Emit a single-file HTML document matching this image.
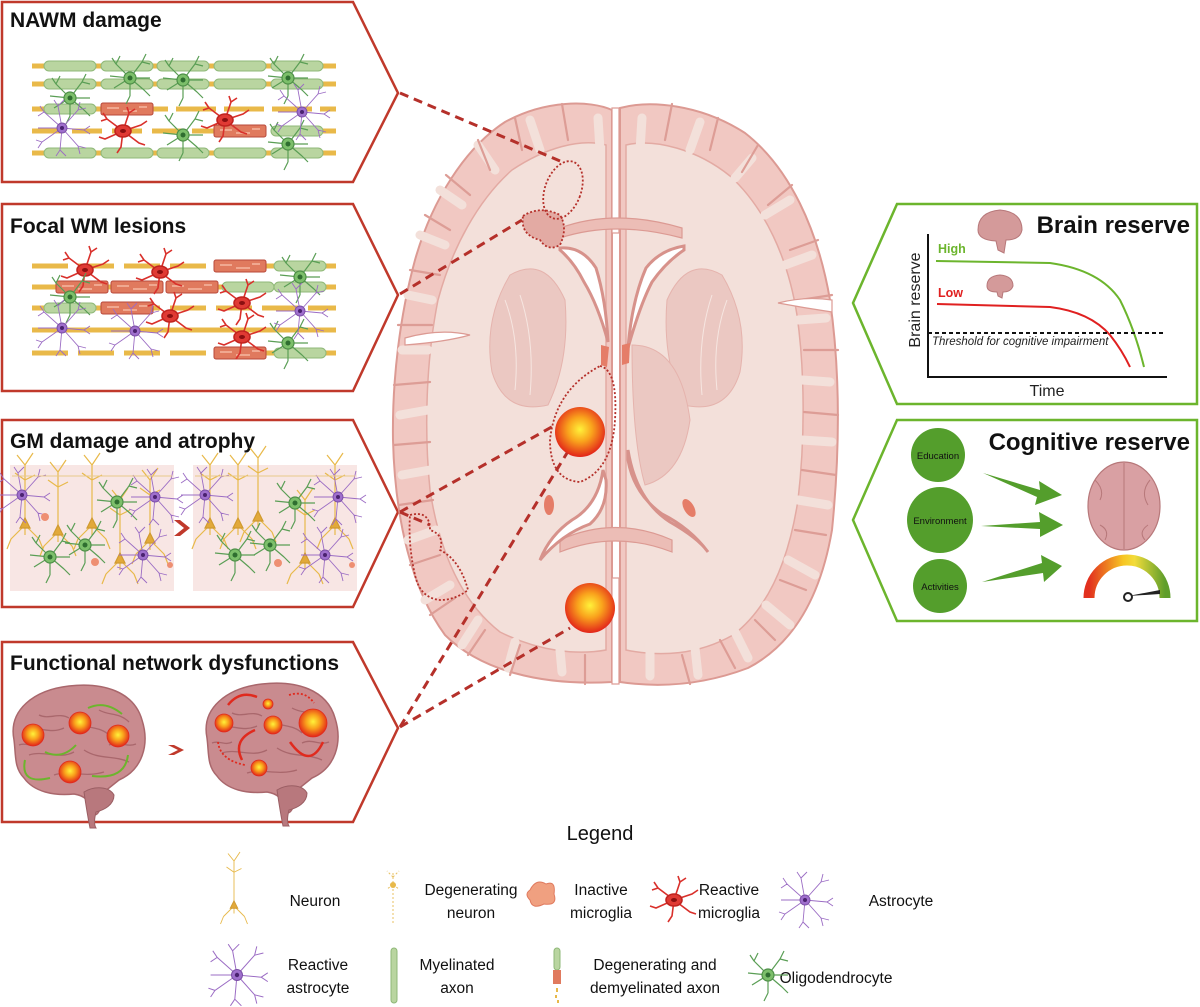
<!DOCTYPE html>
<html><head><meta charset="utf-8"><style>
html,body{margin:0;padding:0;background:#fff}
svg{display:block}
text{font-family:"Liberation Sans",Arial,sans-serif}
</style></head><body>
<svg width="1200" height="1007" viewBox="0 0 1200 1007" xmlns="http://www.w3.org/2000/svg">
<defs>
<radialGradient id="les" cx="0.5" cy="0.45" r="0.55">
<stop offset="0" stop-color="#fff23a"/><stop offset="0.45" stop-color="#f9a21c"/><stop offset="1" stop-color="#e2231a"/>
</radialGradient>
<linearGradient id="gauge" x1="0" x2="1"><stop offset="0" stop-color="#e2301e"/><stop offset="0.45" stop-color="#f7c623"/><stop offset="0.6" stop-color="#f2dc3a"/><stop offset="1" stop-color="#5f9e2b"/></linearGradient>
<g id="oligo" stroke="#5a9e55" stroke-width="1.2" fill="none"><path d="M0 0L-14-14M-14-14L-18-20M-14-14L-10-22M0 0L12-16M12-16L16-24M12-16L20-14M0 0L-16 10M0 0L14 12M14 12L20 18M0 0L0 18M0 18L-4 26M0 0L-20-2M0 0L20 0"/><circle r="6" fill="#7cbf6a" stroke="#4e8f48"/><circle r="2.5" fill="#2f6e30" stroke="none"/></g>
<g id="astro" stroke="#9b6cc4" stroke-width="0.9" fill="none"><path d="M0 0L-18-16L-22-22M-18-16L-24-12M0 0L-4-22L-8-28M-4-22L2-28M0 0L16-18L18-26M16-18L24-20M0 0L22 2L28-2M22 2L28 6M0 0L16 18L18 26M16 18L24 20M0 0L-2 22L-6 28M-2 22L4 28M0 0L-20 14L-26 12M-20 14L-24 20M0 0L-24 0"/><circle r="5" fill="#9f6fcd" stroke="#7a4ea5"/><circle r="2" fill="#4a2270" stroke="none"/></g>
<g id="rmicro" stroke="#d9302b" stroke-width="1.6" fill="none"><path d="M0 0L-16-12L-20-18M-16-12L-22-10M0 0L6-18L4-24M6-18L12-22M0 0L18-6L24-10M0 0L16 12L22 14M0 0L-2 16L-6 22M0 0L-18 8L-24 6"/><ellipse rx="8" ry="6" fill="#e03a34" stroke="#c0231f"/><ellipse rx="3" ry="2" fill="#8b0f10" stroke="none"/></g>
<g id="myel"><rect x="-26" y="-5" width="52" height="10" rx="5" fill="#b9d5a0" stroke="#8fb878" stroke-width="1"/></g>
<g id="dmy"><rect x="-26" y="-6" width="52" height="12" rx="2" fill="#e07a5e" stroke="#b8483a" stroke-width="1"/><path d="M-20-1h12M-4 2h14M12-2h8" stroke="#f0a890" stroke-width="2"/></g>
<g id="neur" stroke="#e8b94a" stroke-width="1.2" fill="none"><path d="M0 0V-60M0-60L-8-70M0-60L8-72M0-45L-10-52M0-45L10-50M0 0L-14 14M0 0L14 14M-14 14L-18 24M14 14L18 24M0 0V10"/><path d="M-5 3L0-7L5 3Z" fill="#e2a93a" stroke="#d09a30"/></g>
<g id="brainside">
<path d="M0 40C-6 10 20-10 55-14C90-18 120-8 128 20C136 45 128 70 105 80L90 92C88 110 82 120 78 112C74 100 72 96 60 94C40 96 20 92 10 78C0 68 2 55 0 40Z" fill="#c98b8f" stroke="#a9676c" stroke-width="1.5"/>
<path d="M10 30C25 25 35 35 50 28M60 20C70 30 85 25 95 35M15 55C30 50 45 60 60 52M70 50C85 60 100 55 115 62M40 75C55 70 70 78 90 72M25 15C35 20 45 12 55 18M85 10C95 16 105 12 115 22M5 45C12 42 18 48 25 44M95 45C105 40 112 48 122 44" stroke="#a9676c" stroke-width="1.3" fill="none"/>
<path d="M70 92C80 86 95 86 100 95C100 105 90 110 82 112C80 120 80 125 82 128L76 128C74 118 72 106 70 92Z" fill="#b8787d" stroke="#9a5e63"/>
</g>
</defs>

<!-- LEFT PANELS -->
<g fill="#fff" stroke="#c0392b" stroke-width="2.5">
<polygon points="2,2 353,2 398,93 353,182 2,182"/>
<polygon points="2,204 353,204 398,295 353,391 2,391"/>
<polygon points="2,420 353,420 398,512 353,607 2,607"/>
<polygon points="2,642 353,642 398,728 353,822 2,822"/>
</g>
<g font-weight="bold" font-size="21" fill="#111">
<text x="10" y="27">NAWM damage</text>
<text x="10" y="233">Focal WM lesions</text>
<text x="10" y="448">GM damage and atrophy</text>
<text x="10" y="670">Functional network dysfunctions</text>
</g>

<!-- NAWM illustration -->
<g stroke="#e9b949" stroke-width="5">
<line x1="32" y1="66" x2="336" y2="66"/><line x1="32" y1="84" x2="336" y2="84"/>
<line x1="32" y1="109" x2="336" y2="109" stroke-dasharray="40 8"/><line x1="32" y1="131" x2="336" y2="131" stroke-dasharray="30 10"/>
<line x1="32" y1="153" x2="336" y2="153"/>
</g>
<g>
<use href="#myel" x="70" y="66"/><use href="#myel" x="127" y="66"/><use href="#myel" x="183" y="66"/><use href="#myel" x="240" y="66"/><use href="#myel" x="297" y="66"/>
<use href="#myel" x="70" y="84"/><use href="#myel" x="127" y="84"/><use href="#myel" x="183" y="84"/><use href="#myel" x="240" y="84"/><use href="#myel" x="297" y="84"/>
<use href="#myel" x="70" y="109"/><use href="#myel" x="297" y="131"/>
<use href="#myel" x="70" y="153"/><use href="#myel" x="127" y="153"/><use href="#myel" x="183" y="153"/><use href="#myel" x="240" y="153"/><use href="#myel" x="297" y="153"/>
<use href="#dmy" x="127" y="109"/><use href="#dmy" x="240" y="131"/>
<use href="#oligo" x="130" y="78"/><use href="#oligo" x="183" y="80"/><use href="#oligo" x="288" y="78"/><use href="#oligo" x="70" y="98"/><use href="#oligo" x="183" y="135"/><use href="#oligo" x="288" y="144"/>
<use href="#astro" x="62" y="128"/><use href="#astro" x="302" y="112"/>
<use href="#rmicro" x="123" y="131"/><use href="#rmicro" x="225" y="120"/>
</g>

<!-- Focal WM illustration -->
<g stroke="#e9b949" stroke-width="5" stroke-dasharray="36 10">
<line x1="32" y1="266" x2="336" y2="266"/><line x1="32" y1="287" x2="336" y2="287"/>
<line x1="32" y1="308" x2="336" y2="308"/><line x1="32" y1="330" x2="336" y2="330" stroke-dasharray="none"/>
<line x1="32" y1="353" x2="336" y2="353"/>
</g>
<g>
<use href="#dmy" x="82" y="287"/><use href="#dmy" x="137" y="287"/><use href="#dmy" x="192" y="287"/><use href="#dmy" x="240" y="266"/><use href="#dmy" x="127" y="308"/><use href="#dmy" x="240" y="353"/>
<use href="#myel" x="300" y="266"/><use href="#myel" x="248" y="287"/><use href="#myel" x="300" y="287"/><use href="#myel" x="70" y="308"/><use href="#myel" x="300" y="353"/>
<use href="#rmicro" x="85" y="270"/><use href="#rmicro" x="160" y="272"/><use href="#rmicro" x="170" y="316"/><use href="#rmicro" x="242" y="303"/><use href="#rmicro" x="242" y="337"/>
<use href="#oligo" x="70" y="297"/><use href="#oligo" x="300" y="277"/><use href="#oligo" x="288" y="343"/>
<use href="#astro" x="62" y="328"/><use href="#astro" x="135" y="331"/><use href="#astro" x="300" y="311"/>
</g>

<!-- GM illustration -->
<rect x="10" y="465" width="164" height="126" fill="#f8e6e4"/>
<rect x="193" y="465" width="164" height="126" fill="#f8e6e4"/>
<path d="M174 520l10 8-10 8h6l10-8-10-8z" fill="#c0392b"/>
<g>
<use href="#neur" x="58" y="532"/><use href="#neur" x="92" y="525"/><use href="#neur" x="120" y="560"/><use href="#neur" x="25" y="525"/><use href="#neur" x="150" y="540"/>
<use href="#oligo" x="117" y="502"/><use href="#oligo" x="50" y="557"/><use href="#oligo" x="85" y="545"/>
<use href="#astro" x="22" y="495"/><use href="#astro" x="155" y="497"/><use href="#astro" x="143" y="555"/>
<use href="#neur" x="238" y="525"/><use href="#neur" x="258" y="518"/><use href="#neur" x="305" y="560"/><use href="#neur" x="335" y="525"/><use href="#neur" x="210" y="525"/>
<use href="#oligo" x="295" y="503"/><use href="#oligo" x="235" y="555"/><use href="#oligo" x="270" y="545"/>
<use href="#astro" x="205" y="495"/><use href="#astro" x="338" y="497"/><use href="#astro" x="325" y="555"/>
</g>
<g stroke="#e9c98a" stroke-width="1" fill="none"><path d="M12 476H172M195 476H355"/></g>
<g fill="#ee8f72"><circle cx="45" cy="517" r="4"/><circle cx="95" cy="562" r="4"/><circle cx="170" cy="565" r="3"/><circle cx="278" cy="563" r="4"/><circle cx="352" cy="565" r="3"/></g>

<!-- Functional network illustration -->
<use href="#brainside" x="14" y="700"/>
<use href="#brainside" x="207" y="698"/>
<path d="M168 745l10 5-10 5h6l10-5-10-5z" fill="#c0392b"/>
<g fill="url(#les)" stroke="#e02a1e" stroke-width="0.8">
<circle cx="33" cy="735" r="11"/><circle cx="80" cy="723" r="11"/><circle cx="118" cy="736" r="11"/><circle cx="70" cy="772" r="11"/>
<circle cx="224" cy="723" r="9"/><circle cx="268" cy="704" r="5"/><circle cx="273" cy="725" r="9"/><circle cx="313" cy="723" r="14"/><circle cx="259" cy="768" r="8"/>
</g>
<g stroke="#6cb52d" stroke-width="2" fill="none">
<path d="M88 708Q105 700 122 714"/><path d="M45 752Q62 760 76 745"/><path d="M25 760Q20 785 50 778"/><path d="M92 776Q125 780 128 755"/>
</g>
<g stroke="#e02a1e" stroke-width="2.5" fill="none">
<path d="M228 705Q240 690 257 697"/><path d="M242 760Q232 740 255 730"/><path d="M290 742Q310 770 323 742"/>
</g>
<g stroke="#e02a1e" stroke-width="1.8" fill="none" stroke-dasharray="2 2"><path d="M289 695Q305 690 314 703"/><path d="M218 742Q220 760 245 765"/></g>

<!-- Brain axial -->
<g stroke="#dc9a93" stroke-width="2" fill="#f1c8c2">
<path d="M612 110C590 100 545 100 505 122C465 148 432 200 415 260C400 315 392 380 393 440C395 520 412 590 445 635C480 670 540 686 612 682Z"/>
<path d="M620 108C650 100 700 104 745 133C790 168 818 230 830 300C840 370 840 450 832 530C820 600 792 645 748 668C703 685 660 688 620 682Z"/>
</g>
<g fill="#f3e0da" stroke="#e3aaa3" stroke-width="1.5">
<path d="M606 145C580 138 545 148 512 170C478 200 452 248 438 300C426 360 424 430 430 490C440 555 463 603 500 632C540 652 578 655 606 650Z"/>
<path d="M626 145C655 138 698 150 730 176C765 208 788 258 797 315C805 372 805 440 798 500C788 565 766 610 733 635C698 655 660 657 626 650Z"/>
</g>
<!-- gyral cores (white matter fingers) -->
<g stroke="#f3e0da" stroke-width="9" stroke-linecap="round" fill="none">
<path d="M540 150L530 120M495 170L478 145M462 205L440 190M445 245L420 235M432 300L408 295M428 350L402 350M428 410L400 415M430 470L402 475M436 530L408 540M450 585L425 600M478 620L462 645M515 642L508 668M560 650L562 672"/>
<path d="M600 150L598 118"/>
<path d="M690 150L700 122M735 178L752 158M765 215L790 200M785 265L812 255M798 320L826 318M802 380L830 382M802 440L832 442M798 500L828 505M788 560L815 575M766 605L790 625M735 632L748 658M695 648L698 675M650 652L650 676"/>
<path d="M640 150L642 118"/>
</g>
<!-- sulci -->
<g stroke="#dd9d96" stroke-width="2.2" fill="none" stroke-linecap="round">
<path d="M562 104L568 140M515 118L522 150M478 140L490 170M446 175L470 195M425 215L450 230M410 270L440 275M398 325L432 325M394 385L430 382M394 445L430 442M399 505L433 500M410 565L440 555M430 615L455 598M468 655L485 630M510 675L520 645M585 684L585 655"/>
<path d="M672 104L665 140M718 118L710 150M758 145L742 172M792 185L768 205M818 240L790 250M832 295L800 300M838 350L804 350M838 415L804 412M836 475L802 470M826 535L795 530M806 590L780 580M775 640L755 620M735 668L720 640M690 684L682 655"/>
</g>
<!-- fissures -->
<g fill="#fff" stroke="#dc9a93" stroke-width="1.2">
<path d="M405 338Q440 328 470 335Q445 342 405 345Z"/>
<path d="M832 300Q805 296 778 303Q805 308 832 312Z"/>
<rect x="612" y="108" width="7" height="125"/>
<rect x="612" y="578" width="7" height="106"/>
</g>
<!-- deep structures -->
<g fill="#ebc8c2" stroke="#e5b3ad" stroke-width="1">
<path d="M510 275Q545 255 565 300Q570 360 548 405Q505 415 492 372Q483 320 510 275Z"/>
<path d="M722 275Q687 255 667 300Q662 360 684 405Q727 415 740 372Q749 320 722 275Z"/>
<path d="M632 345Q680 345 690 420Q682 475 645 485Q632 440 632 345Z"/>
</g>
<g stroke="#f6e6e1" stroke-width="1" fill="none"><path d="M505 300Q520 340 515 390M520 295Q535 340 530 395M727 300Q712 340 717 390M712 295Q697 340 702 395"/></g>
<!-- callosum & ventricles -->
<g fill="#ecbdb6" stroke="#dc9a93" stroke-width="1.2">
<path d="M560 228Q615 208 682 228L682 238Q615 220 560 238Z"/>
<path d="M560 540Q615 515 672 540L672 552Q615 530 560 552Z"/>
</g>
<g fill="#fff" stroke="#d7928b" stroke-width="3">
<path d="M560 248Q582 246 596 268Q606 300 608 342Q598 305 584 282Q574 262 560 250Z"/>
<path d="M684 246Q660 250 646 268Q632 300 628 348Q640 305 652 282Q666 262 684 250Z"/>
<path d="M603 470Q598 505 572 520Q550 535 540 560Q562 534 590 524Q608 508 606 480Z"/>
<path d="M628 450Q636 500 670 522Q698 538 708 552Q690 528 662 514Q634 494 628 460Z"/>
</g>
<g fill="#e57d68"><path d="M601 345l8 2-2 20-6-2z"/><path d="M622 345l8-2-1 20-7 2z"/><ellipse cx="549" cy="505" rx="5" ry="10"/><ellipse cx="689" cy="508" rx="5" ry="10" transform="rotate(-30 689 508)"/></g>

<!-- lesion regions -->
<path d="M523 216Q540 205 560 215Q568 228 560 245Q548 252 540 240Q520 235 523 216Z" fill="#e3aaa3" stroke="#b5302a" stroke-width="1.8" stroke-dasharray="2 2"/>
<ellipse cx="563" cy="190" rx="18" ry="30" transform="rotate(20 563 190)" fill="none" stroke="#b5302a" stroke-width="1.8" stroke-dasharray="2 2"/>
<path d="M600 366Q618 370 615 420Q612 470 580 482Q550 480 550 440Q555 390 600 366Z" fill="none" stroke="#b5302a" stroke-width="1.8" stroke-dasharray="2 2"/>
<path d="M410 515Q430 510 430 530Q445 535 440 550Q460 560 468 590Q455 600 440 600Q420 598 415 575Q408 545 410 515Z" fill="none" stroke="#b5302a" stroke-width="1.8" stroke-dasharray="2 2"/>
<ellipse cx="580" cy="432" rx="25" ry="25" fill="url(#les)"/>
<ellipse cx="590" cy="608" rx="25" ry="25" fill="url(#les)"/>

<!-- connectors -->
<g stroke="#b5302a" stroke-width="3" stroke-dasharray="9 6" fill="none">
<path d="M400 93L560 161"/>
<path d="M400 294L522 220"/>
<path d="M400 512L557 424"/>
<path d="M400 512L430 525"/>
<path d="M400 727L567 453"/>
<path d="M400 727L570 628"/>
</g>

<!-- RIGHT PANELS -->
<g fill="#fff" stroke="#6cb52d" stroke-width="2.5">
<polygon points="897,204 1197,204 1197,404 897,404 853,303"/>
<polygon points="897,420 1197,420 1197,621 897,621 853,520"/>
</g>
<text x="1190" y="233" font-size="24" font-weight="bold" text-anchor="end" fill="#111">Brain reserve</text>
<text x="1190" y="450" font-size="24" font-weight="bold" text-anchor="end" fill="#111">Cognitive reserve</text>
<path d="M928 234V377H1167" stroke="#111" stroke-width="2" fill="none"/>
<path d="M936 261L1050 263Q1100 270 1120 300Q1135 330 1144 367" stroke="#6cb52d" stroke-width="2" fill="none"/>
<path d="M937 304L1050 307Q1090 312 1110 335Q1122 350 1130 367" stroke="#e02020" stroke-width="2" fill="none"/>
<line x1="928" y1="333" x2="1164" y2="333" stroke="#111" stroke-width="2" stroke-dasharray="4 3"/>
<text x="932" y="345" font-size="11.5" font-style="italic" fill="#222">Threshold for cognitive impairment</text>
<text x="938" y="253" font-size="12.5" font-weight="bold" fill="#6cb52d">High</text>
<text x="938" y="297" font-size="12.5" font-weight="bold" fill="#e02020">Low</text>
<text transform="translate(920 300) rotate(-90)" font-size="16" text-anchor="middle" fill="#222">Brain reserve</text>
<text x="1047" y="396" font-size="16" text-anchor="middle" fill="#222">Time</text>
<g fill="#d49a9a" stroke="#b7787a" stroke-width="1">
<path d="M978 230Q978 212 1000 210Q1022 212 1022 230Q1020 240 1006 240L1004 253L998 250L996 241Q978 240 978 230Z"/>
<path d="M987 286Q987 276 1000 275Q1013 276 1013 286Q1011 292 1003 292L1002 298L998 296L997 292Q987 292 987 286Z"/>
</g>
<g fill="#549e2c">
<circle cx="938" cy="455" r="27"/><circle cx="940" cy="520" r="33"/><circle cx="940" cy="586" r="27"/>
<path d="M983 473L1040 490L1039 481L1062 495L1035 505L1037 497Z"/>
<path d="M981 526L1040 522L1039 512L1063 525L1040 537L1040 529Z"/>
<path d="M982 582L1042 563L1041 555L1062 566L1044 582L1043 573Z"/>
</g>
<g font-size="9.5" text-anchor="middle" fill="#111"><text x="938" y="459">Education</text><text x="940" y="524">Environment</text><text x="940" y="590">Activities</text></g>
<ellipse cx="1124" cy="506" rx="36" ry="44" fill="#d9a0a3" stroke="#b7787a" stroke-width="1.2"/>
<path d="M1124 463V549M1095 480Q1105 490 1100 500M1150 480Q1140 492 1148 505M1100 525Q1110 530 1105 540M1148 525Q1138 532 1145 540" stroke="#b7787a" fill="none"/>
<path d="M1089 598A38 38 0 0 1 1165 598" stroke="url(#gauge)" stroke-width="11" fill="none"/>
<path d="M1128 596L1160 590L1160 594Z" fill="#222"/><circle cx="1128" cy="597" r="4" fill="#fff" stroke="#222" stroke-width="2"/>

<!-- LEGEND -->
<text x="600" y="840" font-size="20" text-anchor="middle" fill="#111">Legend</text>
<g font-size="15.5" fill="#111" text-anchor="middle">
<text x="315" y="906">Neuron</text>
<text x="471" y="895">Degenerating</text><text x="471" y="918">neuron</text>
<text x="601" y="895">Inactive</text><text x="601" y="918">microglia</text>
<text x="729" y="895">Reactive</text><text x="729" y="918">microglia</text>
<text x="901" y="906">Astrocyte</text>
<text x="318" y="970">Reactive</text><text x="318" y="993">astrocyte</text>
<text x="457" y="970">Myelinated</text><text x="457" y="993">axon</text>
<text x="655" y="970">Degenerating and</text><text x="655" y="993">demyelinated axon</text>
<text x="836" y="983">Oligodendrocyte</text>
</g>
<g transform="translate(234 906) scale(0.75)"><use href="#neur"/></g>
<g transform="translate(393 885)" stroke="#e8c060" stroke-width="1" fill="none" stroke-dasharray="2 2"><path d="M0-12V40M0-8L-6-14M0-8L6-14M0 0L-6 4M0 0L6 4"/><circle r="3" fill="#e8b94a" stroke="none"/></g>
<path d="M530 890Q536 878 546 884Q556 880 554 894Q558 906 544 904Q532 910 530 900Q524 894 530 890Z" fill="#f0a080" stroke="#e07a5e"/>
<use href="#rmicro" x="674" y="900"/>
<use href="#astro" x="805" y="900"/>
<g transform="translate(237 975) scale(1.1)"><use href="#astro"/></g>
<rect x="391" y="948" width="6" height="55" rx="3" fill="#b9d5a0" stroke="#8fb878"/>
<rect x="554" y="948" width="6" height="22" rx="3" fill="#b9d5a0" stroke="#8fb878"/>
<rect x="553" y="970" width="8" height="14" fill="#e07a5e"/>
<path d="M557 988v4M556 995v3M558 1000v3" stroke="#e8b94a" stroke-width="2"/>
<use href="#oligo" x="768" y="975"/>
</svg>
</body></html>
